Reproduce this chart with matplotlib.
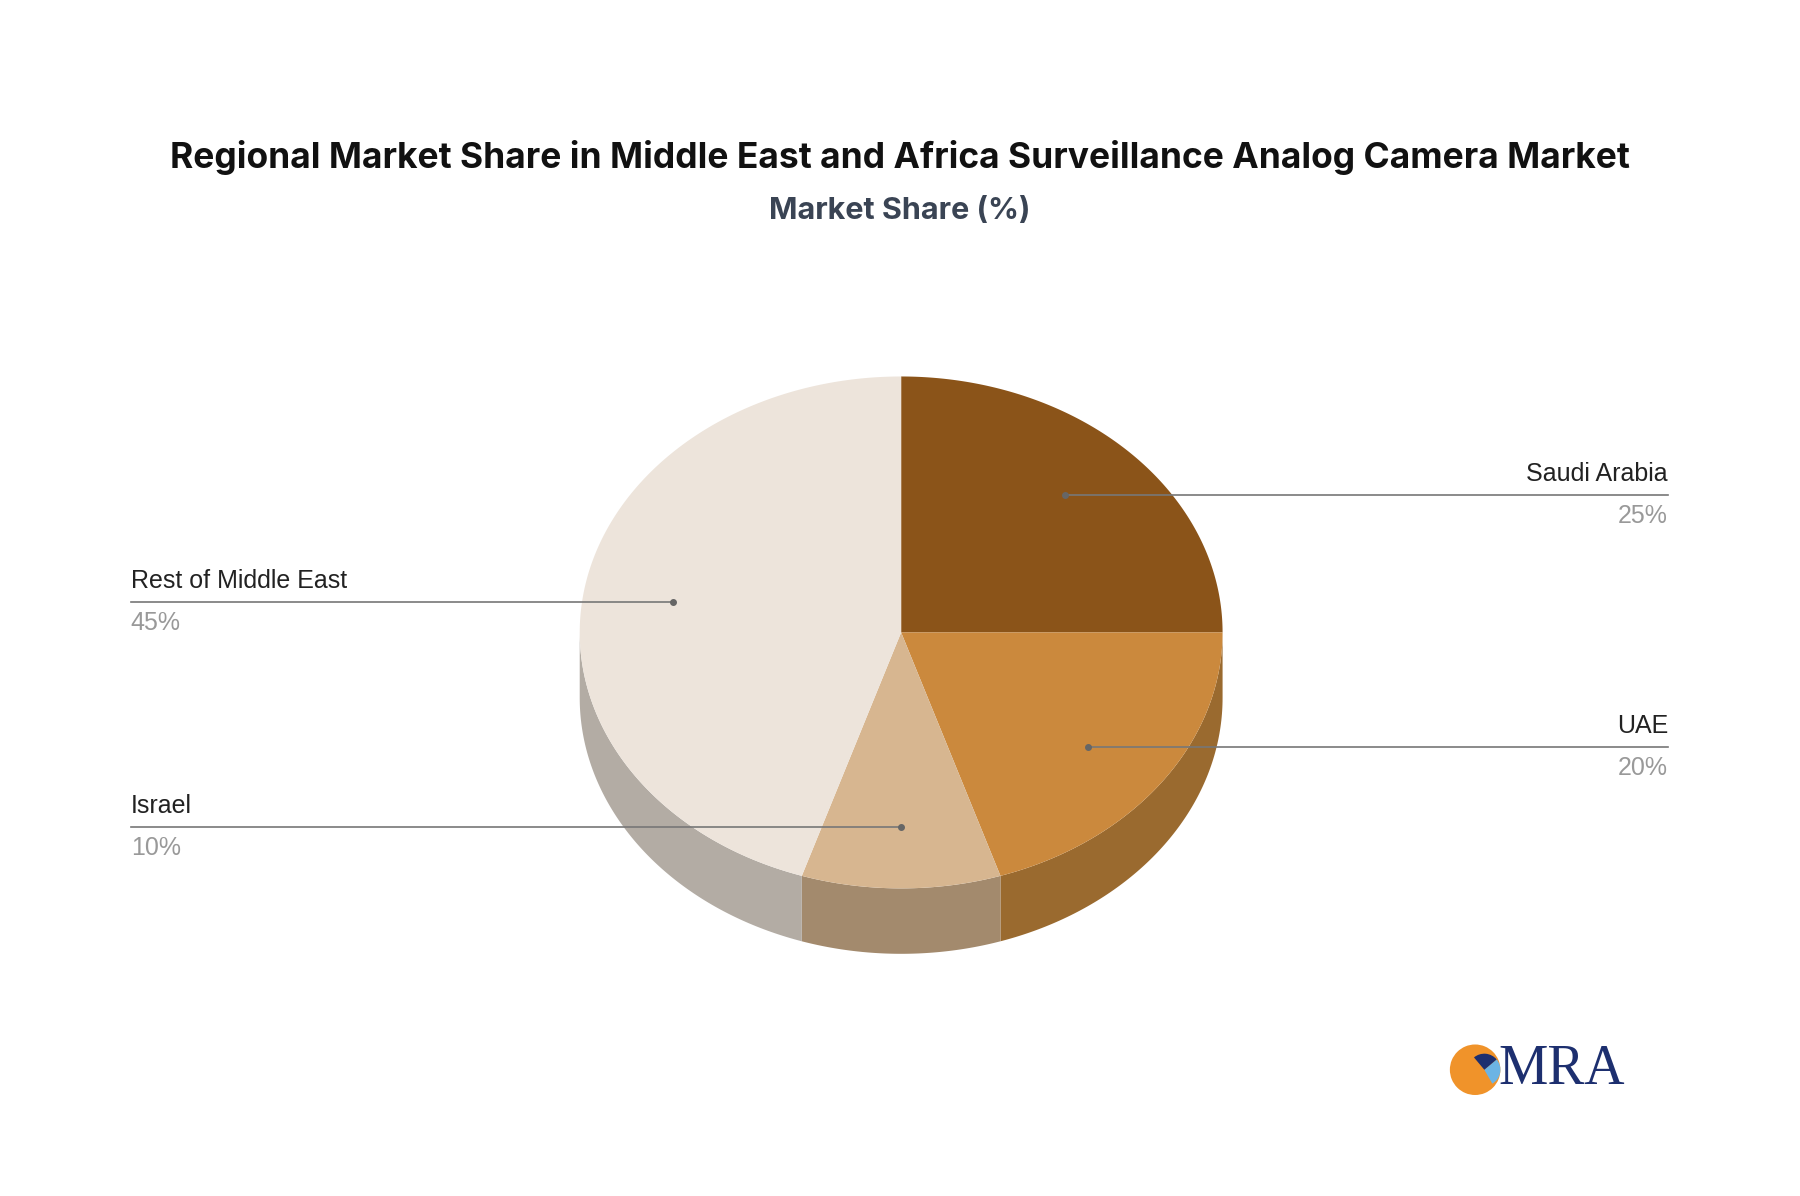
import matplotlib.pyplot as plt
import numpy as np
from matplotlib.patches import Polygon, Wedge

labels = ["Saudi Arabia", "UAE", "Israel", "Rest of Middle East"]
shares = [25, 20, 10, 45]
top_colors = ["#8b5419", "#cb893d", "#d7b690", "#ede4db"]
side_colors = ["#9a6a2f", "#9a6a2f", "#a38a6d", "#b3aca4"]

W, H = 1568, 1042
fig = plt.figure(figsize=(18, 11.96), dpi=100)
ax = fig.add_axes([0, 0, 1, 1])
ax.set_xlim(0, W)
ax.set_ylim(H, 0)
ax.axis("off")

cx, cy, rx, ry, depth = 785, 551, 280, 223, 57


def pt(a, dy=0):
    return cx + rx * np.cos(a), cy - ry * np.sin(a) + dy


# angles: start at 90 deg, go clockwise
bounds = [np.pi / 2]
for s in shares:
    bounds.append(bounds[-1] - 2 * np.pi * s / 100)

# sides (front half only)
for i in range(len(shares)):
    a0, a1 = bounds[i + 1], bounds[i]
    for k in (-1, 0, 1):
        lo, hi = max(a0, -np.pi + 2 * np.pi * k), min(a1, 0 + 2 * np.pi * k)
        if hi > lo:
            t = np.linspace(lo, hi, 100)
            x, y = pt(t)
            xs = np.concatenate([x, x[::-1]])
            ys = np.concatenate([y, (y + depth)[::-1]])
            ax.add_patch(Polygon(np.column_stack([xs, ys]), closed=True,
                                 fc=side_colors[i], ec="none"))

# tops
for i in range(len(shares)):
    t = np.linspace(bounds[i + 1], bounds[i], 200)
    x, y = pt(t)
    xs = np.concatenate([[cx], x])
    ys = np.concatenate([[cy], y])
    ax.add_patch(Polygon(np.column_stack([xs, ys]), closed=True,
                         fc=top_colors[i], ec="none"))

# labels
for i, (lab, s) in enumerate(zip(labels, shares)):
    mid = (bounds[i] + bounds[i + 1]) / 2
    px, py = cx + 0.72 * rx * np.cos(mid), cy - 0.76 * ry * np.sin(mid)
    right = np.cos(mid) > 0.01
    tx = 1453 if right else 114
    ax.plot([px, tx], [py, py], color="#777777", lw=1.2)
    ax.plot(px, py, "o", color="#666666", ms=4)
    ha = "right" if right else "left"
    ax.text(tx, py - 8, lab, ha=ha, va="bottom", fontsize=18,
            family="Liberation Sans", color="#222222")
    ax.text(tx, py + 8, f"{s}%", ha=ha, va="top", fontsize=18,
            family="Liberation Sans", color="#999999")

fig.text(0.5, 1 - 137 / H,
         "Regional Market Share in Middle East and Africa Surveillance Analog Camera Market",
         ha="center", va="center", fontsize=25.5, fontweight="bold",
         family="Inter", color="#111111")
fig.text(0.5, 1 - 184 / H, "Market Share (%)", ha="center", va="center",
         fontsize=22, fontweight="bold", family="Inter", color="#3a4454")

# logo
ax.add_patch(Wedge((1285, 932), 22, 0, 360, fc="#f0932a", ec="none"))
ax.add_patch(Wedge((1293, 932), 14, -40, 60, fc="#6cb4e4", ec="none"))
ax.add_patch(Wedge((1293, 932), 14, -130, -40, fc="#1d2f6f", ec="none"))
ax.text(1305, 932, "MRA", ha="left", va="center", fontsize=40,
        family="Liberation Serif", color="#1d2f6f")

fig.savefig("out.png", dpi=100, facecolor="white")
